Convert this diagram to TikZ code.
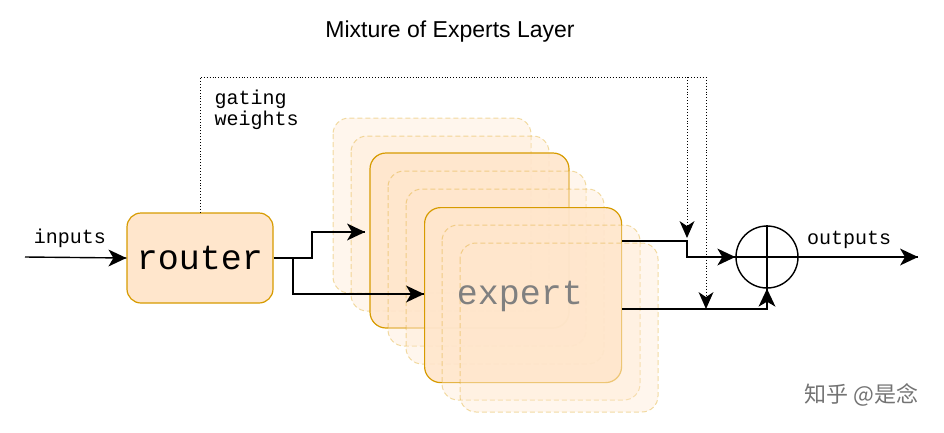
\documentclass[tikz,border=0pt]{standalone}
\usepackage{fontspec}
\setmainfont{Liberation Sans}
\newfontfamily\mono{Liberation Mono}
\newfontfamily\cjk{Noto Sans CJK SC}
\definecolor{boxfill}{HTML}{FFE6CC}
\definecolor{boxline}{HTML}{D79B00}
\newcommand\mytipR[1]{\fill (#1) -- ++(-18,-8.5) -- ++(5,8.5) -- ++(-5,8.5) -- cycle;}
\newcommand\mytipD[1]{\fill (#1) -- ++(-7.5,-17) -- ++(7.5,5) -- ++(7.5,-5) -- cycle;}
\newcommand\mytipU[1]{\fill (#1) -- ++(-8.5,18) -- ++(8.5,-5) -- ++(8.5,5) -- cycle;}
\begin{document}
\begin{tikzpicture}[x=1pt,y=-1pt,
  solidbox/.style={draw=boxline,line width=1.2pt,fill=boxfill,rounded corners=16pt,fill opacity=0.9},
  ghost/.style={draw=boxline,draw opacity=0.35,dash pattern=on 5pt off 3pt,line width=1pt,fill=boxfill,fill opacity=0.35,rounded corners=16pt},
  conn/.style={line width=1.4pt},
  lbl/.style={font=\mono\fontsize{20}{21}\selectfont}]
\useasboundingbox (0,0) rectangle (944,432);
\node[font=\fontsize{23}{26}\selectfont] (title) at (450,32) {Mixture of Experts Layer};
% expert stack
\path[ghost] (333,118) rectangle (531,293);
\path[ghost] (351,136) rectangle (549,311);
\path[solidbox] (370,153) rectangle (569,328);
\path[ghost] (388,171) rectangle (586,346);
\path[ghost] (406,189) rectangle (604,364);
\node[solidbox,minimum width=197pt,minimum height=175pt,anchor=north west,inner sep=0pt] (expert) at (424,207) {};
\path[ghost] (442,225) rectangle (640,400);
\path[ghost] (460,243) rectangle (658,412);
\node[font=\mono\fontsize{35}{38}\selectfont,text=black!50] (extext) at (520,296) {expert};
% router
\node[solidbox,fill opacity=1,minimum width=146pt,minimum height=90pt,rounded corners=14pt,font=\mono\fontsize{35}{38}\selectfont] (router) at (200,258) {router};
% sum
\node[draw,circle,line width=1.4pt,minimum size=62pt,inner sep=0pt] (sum) at (767,257) {};
\draw[line width=1.4pt] (sum.north) -- (sum.south) (sum.west) -- (sum.east);
% coordinates
\coordinate (inL) at (25,257);
\coordinate (outR) at (918,257);
\coordinate (b1) at (312,258);
\coordinate (b1t) at (312,232);
\coordinate (b1e) at (365,232);
\coordinate (b2) at (293,258);
\coordinate (b2b) at (293,294);
\coordinate (g0) at (200,77);
\coordinate (g1) at (687,77);
\coordinate (g2) at (706,77);
% connectors
\draw[conn] (inL) -- (router.west);
\mytipR{router.west}
\node[lbl,anchor=south] (inlbl) at (70,251) {inputs};
\draw[conn] (router.east |- b1) -- (b1) -- (b1t) -- (b1e);
\mytipR{b1e}
\draw[conn] (b2) -- (b2b) -- (expert.west |- b2b);
\mytipR{expert.west |- b2b}
\draw[conn] (expert.east |- 0,241) -- (687,241) -- (687,257) -- (sum.west);
\mytipR{sum.west}
\draw[conn] (expert.east |- 0,309) -- (767,309) -- (sum.south);
\mytipU{sum.south}
\draw[conn] (sum.east) -- (outR);
\mytipR{outR}
\node[lbl,anchor=south] (outlbl) at (849,252) {outputs};
\draw[line width=0.9pt,dotted] (router.north) -- (g0) -- (g2);
\draw[line width=0.9pt,dotted] (g1) -- (687,226);
\mytipD{687,238}
\draw[line width=0.9pt,dotted] (g2) -- (706,297);
\mytipD{706,309}
\node[lbl,anchor=north west,align=left] (glbl) at (211,86) {gating\\weights};
\node[font=\cjk\fontsize{22}{24}\selectfont,text=black!55,anchor=east] (wm) at (922,395) {知乎 @是念};
\end{tikzpicture}
\end{document}
